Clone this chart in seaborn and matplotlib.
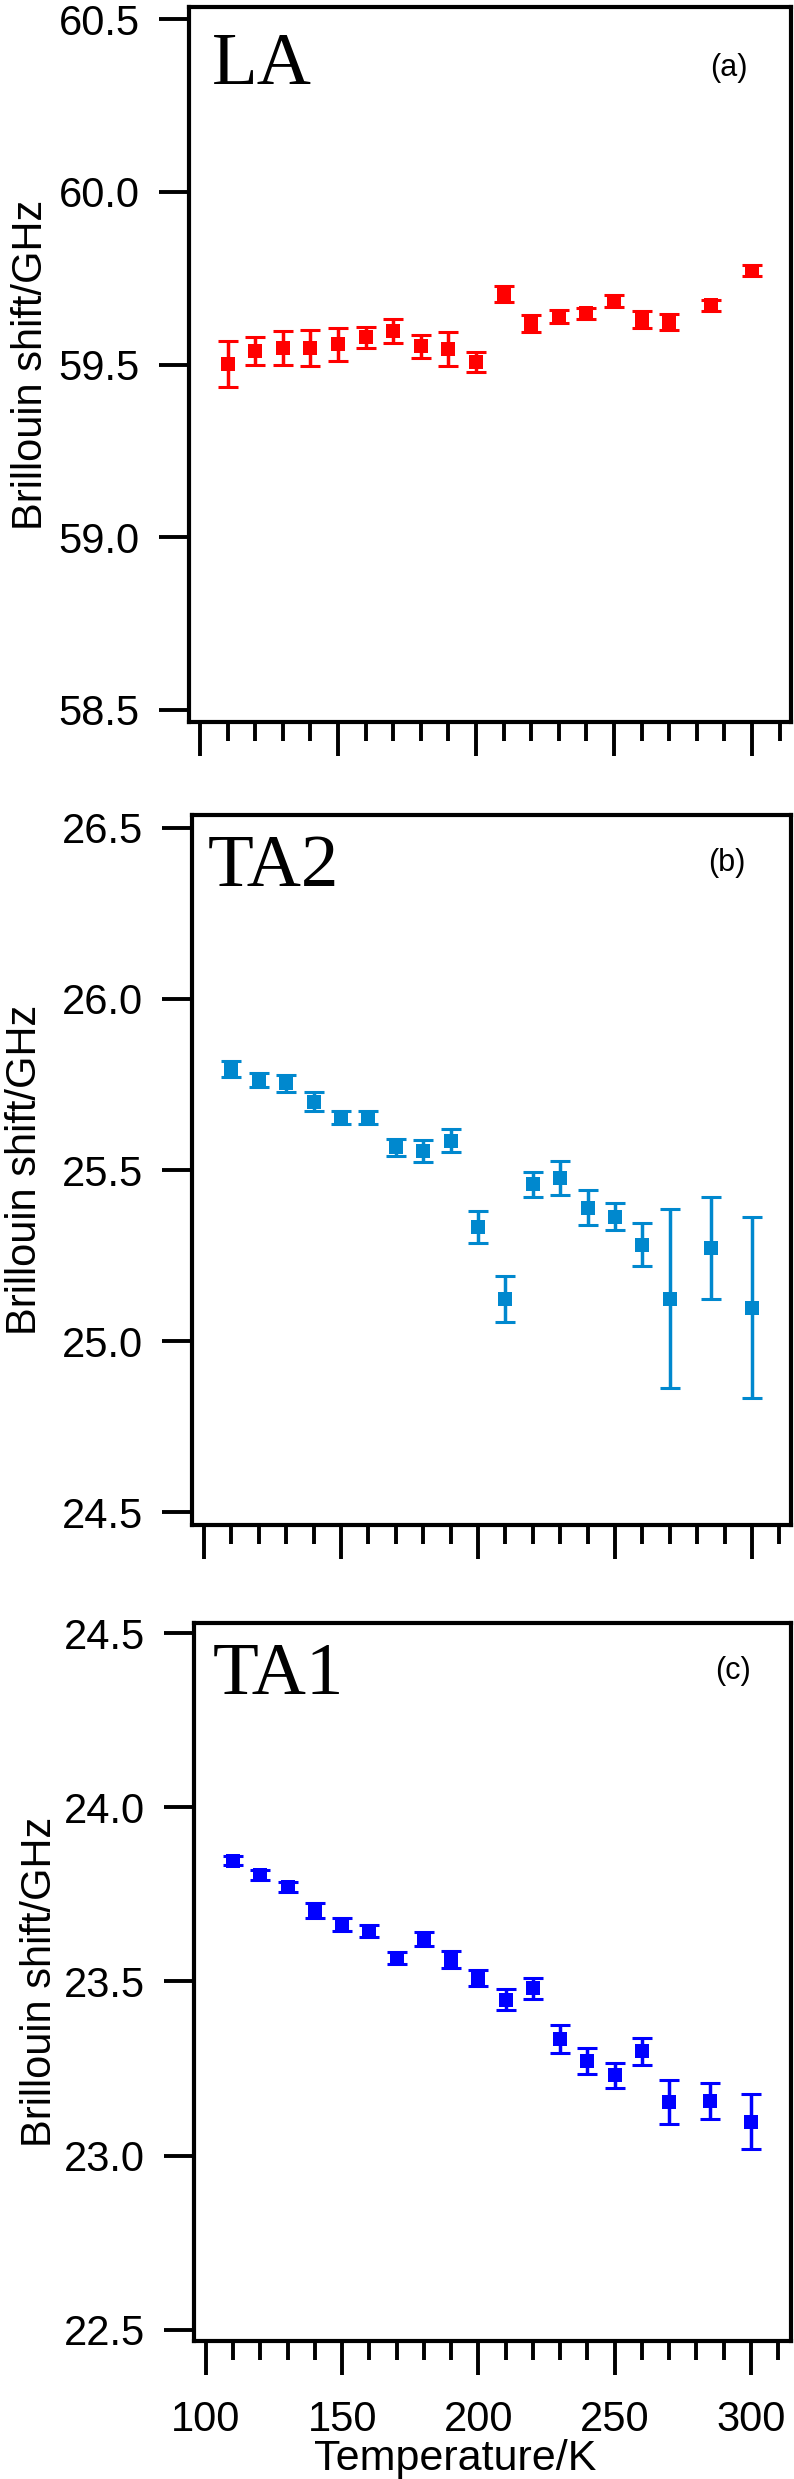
import numpy as np
import pandas as pd
import seaborn as sns
import matplotlib.pyplot as plt
from matplotlib.ticker import MultipleLocator, FormatStrFormatter

# Temperatures (K) - same for all three modes
temps = [110, 120, 130, 140, 150, 160, 170, 180, 190, 200,
         210, 220, 230, 240, 250, 260, 270, 285, 300]

# LA mode
la_shift = [59.502, 59.539, 59.548, 59.548, 59.558, 59.579, 59.596, 59.553, 59.545, 59.507,
            59.705, 59.618, 59.638, 59.648, 59.683, 59.630, 59.623, 59.672, 59.772]
la_err = [0.066, 0.040, 0.050, 0.051, 0.049, 0.031, 0.035, 0.033, 0.049, 0.030,
          0.023, 0.025, 0.019, 0.017, 0.017, 0.025, 0.022, 0.016, 0.017]

# TA2 mode
ta2_shift = [25.795, 25.764, 25.753, 25.700, 25.653, 25.653, 25.566, 25.556, 25.586, 25.333,
             25.123, 25.458, 25.476, 25.390, 25.364, 25.282, 25.124, 25.272, 25.097]
ta2_err = [0.024, 0.020, 0.024, 0.027, 0.019, 0.019, 0.026, 0.032, 0.033, 0.047,
           0.067, 0.036, 0.049, 0.051, 0.040, 0.062, 0.262, 0.150, 0.265]

# TA1 mode
ta1_shift = [23.846, 23.805, 23.771, 23.703, 23.663, 23.644, 23.568, 23.621, 23.563, 23.510,
             23.448, 23.481, 23.335, 23.271, 23.231, 23.300, 23.154, 23.156, 23.098]
ta1_err = [0.013, 0.015, 0.015, 0.022, 0.019, 0.017, 0.018, 0.020, 0.025, 0.024,
           0.031, 0.030, 0.039, 0.038, 0.036, 0.039, 0.063, 0.052, 0.080]

mode_names = ["LA", "TA2", "TA1"]
panel_tags = ["(a)", "(b)", "(c)"]
colors = ["#FF0000", "#0088CE", "#0000FF"]
y_ticks = [[58.5, 59.0, 59.5, 60.0, 60.5],
           [24.5, 25.0, 25.5, 26.0, 26.5],
           [22.5, 23.0, 23.5, 24.0, 24.5]]

sns.set_style("ticks")
plt.rcParams['font.family'] = ['Liberation Sans', 'DejaVu Sans']
plt.rcParams.update({'axes.edgecolor': 'black', 'xtick.color': 'black',
                     'ytick.color': 'black', 'text.color': 'black',
                     'axes.labelcolor': 'black'})

W, H = 794, 2479
fig = plt.figure(figsize=(W / 100, H / 100), dpi=100)

# axes boxes in pixels: left, right, top, bottom
boxes = [(189, 791, 7, 722), (192, 791, 815, 1525), (194, 791, 1623, 2341)]
xlims = [(96.0, 314.1), (95.6, 314.2), (95.6, 314.7)]
ylims = [(58.465, 60.535), (24.462, 26.538), (22.468, 24.529)]
name_off = [(23, 25), (16, 20), (19, 19)]
tag_off = [(43, 61), (46, 48), (40, 48)]
ylab_x = [-0.23, -0.245, -0.225]

series = [(la_shift, la_err), (ta2_shift, ta2_err), (ta1_shift, ta1_err)]

for i, (vals, errs) in enumerate(series):
    l, r, t, b = boxes[i]
    ax = fig.add_axes([l / W, 1 - b / H, (r - l) / W, (b - t) / H])
    df = pd.DataFrame({"T": temps, "shift": vals, "err": errs})

    ax.errorbar(df["T"], df["shift"], yerr=df["err"], fmt="none",
                ecolor=colors[i], elinewidth=2.5, capsize=7.2, capthick=2.2, zorder=2)
    sns.scatterplot(data=df, x="T", y="shift", marker="s", s=100, color=colors[i],
                    linewidth=0, ax=ax, zorder=3)

    ax.set_xlim(*xlims[i])
    ax.set_ylim(*ylims[i])
    ax.set_yticks(y_ticks[i])
    ax.yaxis.set_major_formatter(FormatStrFormatter('%.1f'))
    ax.xaxis.set_major_locator(MultipleLocator(50))
    ax.xaxis.set_minor_locator(MultipleLocator(10))

    for sp in ax.spines.values():
        sp.set_linewidth(3.0)
        sp.set_color("black")
        sp.set_visible(True)
    ax.tick_params(axis="y", which="major", length=21.5, width=2.8, pad=14,
                   labelsize=30, direction="out", color="black")
    ax.tick_params(axis="x", which="major", length=24.5, width=2.8, pad=18,
                   labelsize=30, direction="out", color="black")
    ax.tick_params(axis="x", which="minor", length=13.7, width=2.8, direction="out",
                   color="black")

    ax.set_ylabel("Brillouin shift/GHz", fontsize=30)
    ax.yaxis.set_label_coords(ylab_x[i], 0.5)
    if i < 2:
        ax.set_xlabel("")
        ax.tick_params(axis="x", labelbottom=False)
    else:
        ax.set_xlabel("Temperature/K", fontsize=31)
        ax.xaxis.set_label_coords(0.437, -0.136)
        ax.xaxis.label.set_verticalalignment("top")

    ax.annotate(mode_names[i], xy=(0, 1), xycoords="axes fraction",
                xytext=(name_off[i][0] * 0.72, -name_off[i][1] * 0.72),
                textcoords="offset points", ha="left", va="top",
                fontsize=54, family="Liberation Serif")
    ax.annotate(panel_tags[i], xy=(1, 1), xycoords="axes fraction",
                xytext=(-tag_off[i][0] * 0.72, -tag_off[i][1] * 0.72),
                textcoords="offset points", ha="right", va="center", fontsize=22)

fig.savefig("out.png", dpi=100)
